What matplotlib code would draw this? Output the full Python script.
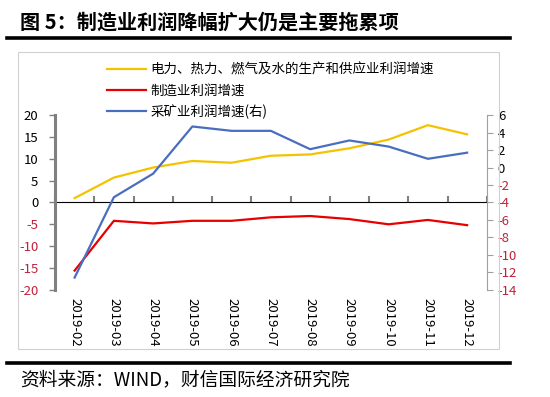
import matplotlib
matplotlib.use("Agg")
import matplotlib.pyplot as plt
from matplotlib.patches import Rectangle
from matplotlib.lines import Line2D

plt.rcParams['font.family'] = ['Noto Sans CJK SC', 'DejaVu Sans']

months = ['2019-02', '2019-03', '2019-04', '2019-05', '2019-06', '2019-07',
          '2019-08', '2019-09', '2019-10', '2019-11', '2019-12']
utility = [1.0, 5.7, 8.0, 9.5, 9.1, 10.7, 11.0, 12.4, 14.4, 17.7, 15.6]
manuf = [-15.6, -4.2, -4.8, -4.2, -4.2, -3.4, -3.1, -3.8, -5.0, -4.0, -5.2]
mining = [-12.6, -3.4, -0.7, 4.7, 4.2, 4.2, 2.1, 3.1, 2.4, 1.0, 1.7]

names = ['电力、热力、燃气及水的生产和供应业利润增速', '制造业利润增速', '采矿业利润增速(右)']
c_yel = '#F5C200'
c_red = '#E80000'
c_blu = '#4A6EBF'
neg_red = '#C0203C'

fig = plt.figure(figsize=(5.5, 3.97), dpi=100)

# title + rules
fig.text(0.036, 0.945, '图 5：制造业利润降幅扩大仍是主要拖累项', fontsize=14.5,
         fontweight='bold', va='center', ha='left')
fig.add_artist(Line2D([0.013, 0.927], [0.905, 0.905], transform=fig.transFigure,
                      color='black', lw=2.6))
fig.add_artist(Line2D([0.013, 0.927], [0.086, 0.086], transform=fig.transFigure,
                      color='black', lw=2.6))
fig.text(0.036, 0.043, '资料来源：WIND，财信国际经济研究院', fontsize=13.5,
         style='italic', va='center', ha='left')
fig.add_artist(Rectangle((0.033, 0.121), 0.875, 0.748, transform=fig.transFigure,
                         fill=False, edgecolor='#D0D0D0', lw=0.8))

ax = fig.add_axes([0.1, 0.270, 0.785, 0.44])
x = range(len(months))
l1, = ax.plot(x, utility, color=c_yel, lw=1.6)
l2, = ax.plot(x, manuf, color=c_red, lw=1.6)
ax.set_xlim(-0.5, len(months) - 0.5)
ax.set_ylim(-20, 20)
ax.set_yticks(range(-20, 21, 5))
ax.set_yticklabels([str(v) for v in range(-20, 21, 5)])
for lab, v in zip(ax.get_yticklabels(), range(-20, 21, 5)):
    lab.set_color(neg_red if v < 0 else 'black')
ax.tick_params(axis='y', direction='out', length=4, width=1, color='#808080',
               labelsize=9.5, pad=8)
ax.set_xticks(list(x))
ax.set_xticklabels(months, rotation=270, fontsize=9.5)
ax.tick_params(axis='x', length=0, pad=6)
for s in ['top', 'right', 'bottom']:
    ax.spines[s].set_visible(False)
ax.spines['left'].set_color('#808080')
ax.spines['left'].set_linewidth(2.2)

# zero line with category separators
zx = ax.secondary_xaxis(0.5)
zx.set_xticks([i + 0.5 for i in range(-1, len(months))])
zx.set_xticklabels([])
zx.tick_params(direction='out', length=4, width=1.5, color='#808080')
zx.spines['bottom'].set_color('#808080')
zx.spines['bottom'].set_linewidth(2.2)

ax2 = ax.twinx()
l3, = ax2.plot(x, mining, color=c_blu, lw=1.6)
ax2.set_ylim(-14, 6)
ax2.set_yticks(range(-14, 7, 2))
ax2.set_yticklabels([str(v) for v in range(-14, 7, 2)])
for lab, v in zip(ax2.get_yticklabels(), range(-14, 7, 2)):
    lab.set_color(neg_red if v < 0 else 'black')
ax2.tick_params(axis='y', direction='out', length=4, width=0.8, color='#A0A0A0',
                labelsize=9.5, pad=4)
for s in ['top', 'left', 'bottom']:
    ax2.spines[s].set_visible(False)
ax2.spines['right'].set_color('#A0A0A0')
ax2.spines['right'].set_linewidth(0.8)

fig.legend([l1, l2, l3], names, loc='upper left', bbox_to_anchor=(0.195, 0.842),
           bbox_transform=fig.transFigure, frameon=False, fontsize=9.7,
           handlelength=2.9, handletextpad=0.3, labelspacing=0.5,
           borderpad=0, borderaxespad=0)

fig.savefig('out.png', dpi=100)
